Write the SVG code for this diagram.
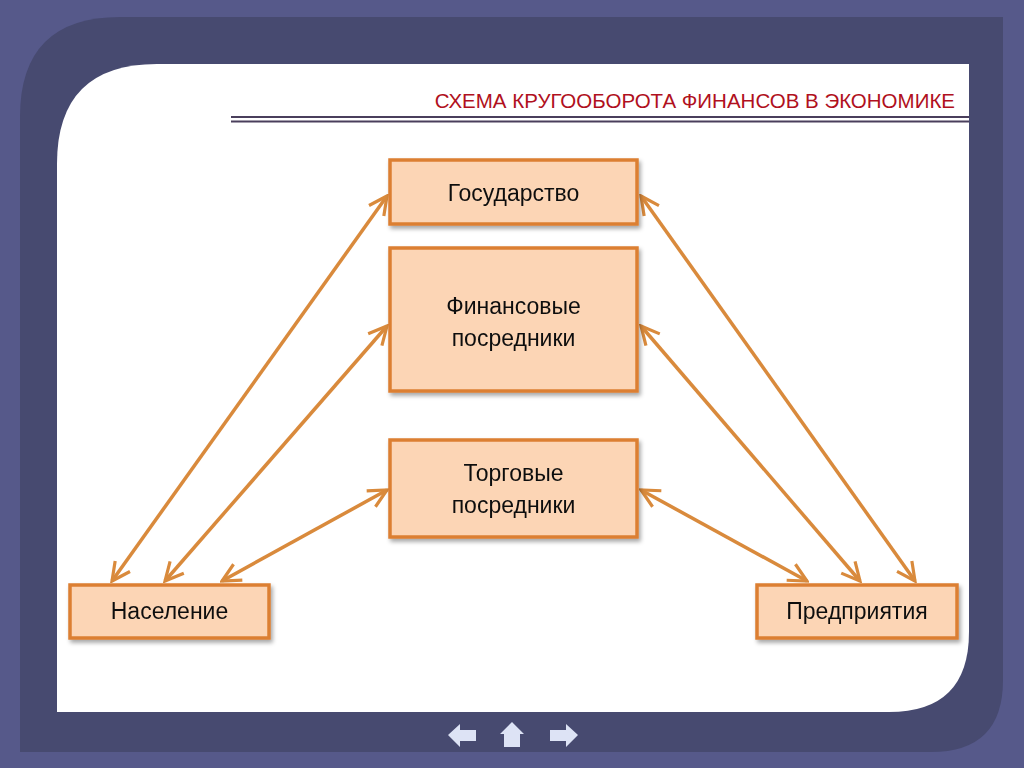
<svg xmlns="http://www.w3.org/2000/svg" width="1024" height="768" viewBox="0 0 1024 768">
<defs>
<style>
.box{fill:#fcd5b5;stroke:#dc7f32;stroke-width:3.5}
.t{font-family:"Liberation Sans",Arial,sans-serif;font-size:23px;fill:#111;text-anchor:middle}
.c{stroke:#d98a3c;stroke-width:3.5;fill:none;marker-start:url(#a);marker-end:url(#a)}
.nav{fill:#dde3f5}
</style>
<marker id="a" viewBox="0 0 10 10" refX="9" refY="5" markerWidth="6.5" markerHeight="6.5" orient="auto-start-reverse" markerUnits="strokeWidth">
<path d="M1,1 L9,5 L1,9" fill="none" stroke="#d98a3c" stroke-width="1.4"/>
</marker>
<filter id="sh" x="-10%" y="-10%" width="130%" height="130%"><feDropShadow dx="2" dy="3" stdDeviation="2" flood-opacity="0.35"/></filter>
</defs>
<rect width="1024" height="768" fill="#56598a"/>
<path d="M120,17 H1003 V680 Q1003,752 931,752 H20 V117 Q20,17 120,17 Z" fill="#474a70"/>
<path d="M157,64 H969 V632 Q969,712 889,712 H57 V164 Q57,64 157,64 Z" fill="#ffffff"/>
<text x="955" y="108" font-family="Liberation Sans,Arial,sans-serif" font-size="20.5" fill="#b01020" text-anchor="end">СХЕМА КРУГООБОРОТА ФИНАНСОВ В ЭКОНОМИКЕ</text>
<line x1="231" y1="117" x2="969" y2="117" stroke="#4a3f5c" stroke-width="2"/>
<line x1="231" y1="121.5" x2="969" y2="121.5" stroke="#4a3f5c" stroke-width="2"/>
<g id="connectors">
<line class="c" x1="112" y1="581" x2="387" y2="196"/>
<line class="c" x1="165" y1="581" x2="387" y2="326"/>
<line class="c" x1="222" y1="581" x2="387" y2="490"/>
<line class="c" x1="915" y1="581" x2="641" y2="196"/>
<line class="c" x1="860" y1="581" x2="641" y2="326"/>
<line class="c" x1="807" y1="581" x2="641" y2="490"/>
</g>
<g id="gos" filter="url(#sh)"><rect class="box" x="390" y="160" width="247" height="64"/><text class="t" x="513.5" y="201">Государство</text></g>
<g id="fin" filter="url(#sh)"><rect class="box" x="390" y="248" width="247" height="143"/><text class="t" x="513.5" y="314">Финансовые</text><text class="t" x="513.5" y="346">посредники</text></g>
<g id="torg" filter="url(#sh)"><rect class="box" x="390" y="440" width="247" height="97"/><text class="t" x="513.5" y="481">Торговые</text><text class="t" x="513.5" y="513">посредники</text></g>
<g id="nas" filter="url(#sh)"><rect class="box" x="70" y="585" width="199" height="53"/><text class="t" x="169.5" y="619">Население</text></g>
<g id="pred" filter="url(#sh)"><rect class="box" x="757" y="585" width="200" height="53"/><text class="t" x="857" y="619">Предприятия</text></g>
<g id="nav">
<path class="nav" d="M448,735 L460,724 V730 H476 V741 H460 V747 Z"/>
<path class="nav" d="M512,722 L524,734 H520 V747 H504 V734 H500 Z"/>
<path class="nav" d="M578,735 L566,724 V730 H550 V741 H566 V747 Z"/>
</g>
</svg>
